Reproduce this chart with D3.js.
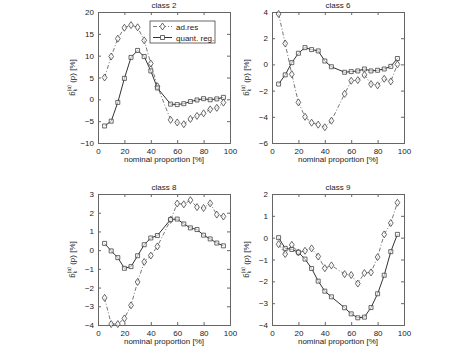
<!DOCTYPE html>
<html lang="en">
<head>
    <meta charset="UTF-8">
    <title>Bias per class</title>
    <script src="https://cdnjs.cloudflare.com/ajax/libs/d3/7.8.5/d3.min.js"></script>
    <style>
        body {
            margin: 0;
            background-color: white;
            font-family: 'Liberation Sans', Arial, sans-serif;
        }
        svg text {
            fill: #222;
        }
    </style>
</head>
<body>
    <svg id="chart" width="474" height="351"></svg>

    <script>
        // nominal proportions (50 % is not in the data)
        const proportions = [5, 10, 15, 20, 25, 30, 35, 40, 45, 55, 60, 65, 70, 75, 80, 85, 90, 95];
        const xTicks = [0, 20, 40, 60, 80, 100];
        const seriesNames = ["ad.res", "quant. reg."];

        const class2AdRes = [5, 9.8, 13.9, 16.4, 17.0, 16.5, 13.5, 8.2, 3.0, -4.7, -5.3, -5.7, -4.5, -3.8, -3.2, -2.3, -1.95, -0.75];
        const class2QuantReg = [-6.1, -5.0, -0.7, 4.8, 9.6, 11.2, 9.8, 6.5, 2.6, -1.1, -1.2, -1.0, -0.5, -0.15, 0.15, -0.1, 0.1, 0.45];

        const class6AdRes = [3.85, 1.6, -0.75, -2.9, -4.0, -4.45, -4.6, -4.8, -4.3, -2.25, -1.25, -1.2, -0.8, -1.5, -1.6, -1.1, -1.3, 0.0];
        const class6QuantReg = [-1.5, -0.8, 0.13, 0.85, 1.28, 1.13, 1.03, 0.26, -0.18, -0.6, -0.55, -0.5, -0.35, -0.5, -0.45, -0.35, -0.15, 0.45];

        const class8AdRes = [-2.55, -3.95, -3.95, -3.65, -2.95, -1.7, -0.63, -0.29, 0.2, 1.62, 2.49, 2.45, 2.67, 2.3, 2.25, 2.5, 1.9, 1.8];
        const class8QuantReg = [0.36, -0.04, -0.4, -0.97, -0.88, -0.3, 0.29, 0.65, 0.78, 1.64, 1.66, 1.4, 1.19, 1.1, 0.8, 0.6, 0.38, 0.23];

        const class9AdRes = [-0.3, -0.75, -0.33, -0.68, -0.6, -0.49, -0.86, -1.4, -1.27, -1.67, -1.71, -2.1, -1.62, -1.59, -0.89, 0.15, 0.67, 1.6];
        const class9QuantReg = [0, -0.49, -0.54, -0.67, -0.98, -1.41, -1.99, -2.45, -2.71, -3.21, -3.49, -3.67, -3.64, -3.2, -2.57, -1.72, -0.64, 0.15];

        const panels = [
            { title: "class 2", adRes: class2AdRes, quantReg: class2QuantReg, yDomain: [-10, 20], yTicks: [-10, -5, 0, 5, 10, 15, 20], left: 98, top: 12, legend: true },
            { title: "class 6", adRes: class6AdRes, quantReg: class6QuantReg, yDomain: [-6, 4], yTicks: [-6, -4, -2, 0, 2, 4], left: 272, top: 12 },
            { title: "class 8", adRes: class8AdRes, quantReg: class8QuantReg, yDomain: [-4, 3], yTicks: [-4, -3, -2, -1, 0, 1, 2, 3], left: 98, top: 194 },
            { title: "class 9", adRes: class9AdRes, quantReg: class9QuantReg, yDomain: [-4, 2], yTicks: [-4, -3, -2, -1, 0, 1, 2], left: 272, top: 194 }
        ];

        const plotW = 132, plotH = 131;
        const axisColor = "#666";
        const fontSize = 8;
        const svg = d3.select("#chart");

        const diamond = "M0,-3.5L2.4,0L0,3.5L-2.4,0Z";
        const square = d3.symbol().type(d3.symbolSquare).size(16)();

        function drawMarkers(g, data, path, x, y) {
            g.selectAll(null)
                .data(data)
                .enter()
                .append("path")
                .attr("d", path)
                .attr("transform", d => `translate(${x(d[0])},${y(d[1])})`)
                .attr("fill", "white")
                .attr("fill-opacity", 0.6)
                .attr("stroke", "#444")
                .attr("stroke-width", 0.8);
        }

        panels.forEach(p => {
            const g = svg.append("g").attr("transform", `translate(${p.left},${p.top})`);

            const x = d3.scaleLinear().domain([0, 100]).range([0, plotW]);
            const y = d3.scaleLinear().domain(p.yDomain).range([plotH, 0]);
            const fmt = d3.format("d");

            // axes, MATLAB style: ticks inside on all four sides
            const axes = [
                [d3.axisBottom(x).tickValues(xTicks).tickFormat(fmt).tickSize(-3).tickPadding(5), `translate(0,${plotH})`, true],
                [d3.axisTop(x).tickValues(xTicks).tickSize(-3), "translate(0,0)", false],
                [d3.axisLeft(y).tickValues(p.yTicks).tickFormat(fmt).tickSize(-3).tickPadding(4), "translate(0,0)", true],
                [d3.axisRight(y).tickValues(p.yTicks).tickSize(-3), `translate(${plotW},0)`, false]
            ];
            axes.forEach(([axis, tr, labels]) => {
                const a = g.append("g").attr("transform", tr).call(axis);
                a.select(".domain").attr("stroke", axisColor);
                a.selectAll(".tick line").attr("stroke", axisColor);
                a.selectAll("text")
                    .attr("font-size", fontSize)
                    .attr("font-family", "'Liberation Sans', Arial, sans-serif")
                    .attr("fill", "#222")
                    .style("display", labels ? null : "none");
            });

            const adPts = proportions.map((v, i) => [v, p.adRes[i]]);
            const qrPts = proportions.map((v, i) => [v, p.quantReg[i]]);
            const line = d3.line().x(d => x(d[0])).y(d => y(d[1]));

            g.append("path")
                .datum(adPts)
                .attr("d", line)
                .attr("fill", "none")
                .attr("stroke", "#555")
                .attr("stroke-width", 0.8)
                .attr("stroke-dasharray", "4,2,1,2");

            g.append("path")
                .datum(qrPts)
                .attr("d", line)
                .attr("fill", "none")
                .attr("stroke", "#333")
                .attr("stroke-width", 1);

            drawMarkers(g, adPts, diamond, x, y);
            drawMarkers(g, qrPts, square, x, y);

            g.append("text")
                .attr("x", plotW / 2)
                .attr("y", -4)
                .attr("text-anchor", "middle")
                .attr("font-size", fontSize)
                .text(p.title);

            g.append("text")
                .attr("x", plotW / 2)
                .attr("y", plotH + 19)
                .attr("text-anchor", "middle")
                .attr("font-size", fontSize)
                .text("nominal proportion [%]");

            // y label: b tilde, sub k, sup (alpha)
            const yl = g.append("text")
                .attr("transform", `translate(-23,${plotH / 2}) rotate(-90)`)
                .attr("text-anchor", "middle")
                .attr("font-size", fontSize);
            yl.append("tspan").text("b\u0303");
            yl.append("tspan").attr("font-size", 5).attr("dy", 2).text("k");
            yl.append("tspan").attr("font-size", 5).attr("dx", -2.5).attr("dy", -6).text("(\u03B1)");
            yl.append("tspan").attr("dy", 4).text(" (p) [%]");

            if (p.legend) {
                const lg = g.append("g").attr("transform", "translate(52,9)");
                lg.append("rect")
                    .attr("width", 65)
                    .attr("height", 22)
                    .attr("fill", "white")
                    .attr("stroke", "#444")
                    .attr("stroke-width", 0.8);
                seriesNames.forEach((name, i) => {
                    const ly = 5.5 + i * 11;
                    lg.append("line")
                        .attr("x1", 3).attr("x2", 22)
                        .attr("y1", ly).attr("y2", ly)
                        .attr("stroke", i === 0 ? "#555" : "#333")
                        .attr("stroke-width", i === 0 ? 0.8 : 1)
                        .attr("stroke-dasharray", i === 0 ? "4,2,1,2" : null);
                    lg.append("path")
                        .attr("d", i === 0 ? diamond : square)
                        .attr("transform", `translate(12.5,${ly})`)
                        .attr("fill", "white")
                        .attr("stroke", "#444")
                        .attr("stroke-width", 0.8);
                    lg.append("text")
                        .attr("x", 26)
                        .attr("y", ly + 3)
                        .attr("font-size", fontSize)
                        .text(name);
                });
            }
        });
    </script>
</body>
</html>
